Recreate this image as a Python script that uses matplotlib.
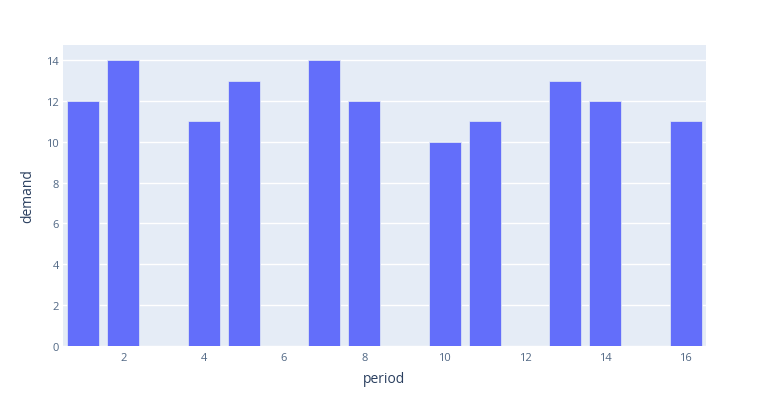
import matplotlib
matplotlib.use("Agg")
import matplotlib.pyplot as plt

# demand per period
period = list(range(1, 17))
demand = [12, 14, 0, 11, 13, 0, 14, 12, 0, 10, 11, 0, 13, 12, 0, 11]

plt.rcParams['font.family'] = ['Open Sans', 'DejaVu Sans']
text_col = '#2a3f5f'

fig = plt.figure(figsize=(7.68, 4.10), dpi=100)
ax = fig.add_axes([0.082, 0.1537, 0.837, 0.734])
ax.set_facecolor('#E5ECF6')

ax.bar(period, demand, width=0.8, color='#636EFA', edgecolor='#E5ECF6',
       linewidth=0.5, zorder=3)

ax.set_xlim(0.5, 16.5)
ax.set_ylim(0, 14.74)
ax.set_xticks(range(2, 17, 2))
ax.set_yticks(range(0, 15, 2))
ax.grid(True, axis='y', color='white', linewidth=1, zorder=0)
ax.set_axisbelow(True)
for s in ax.spines.values():
    s.set_visible(False)
ax.tick_params(axis='y', length=0, labelsize=8, colors='#506784', pad=3)
ax.tick_params(axis='x', length=0, labelsize=8, colors='#506784', pad=4)

ax.set_xlabel('period', fontsize=10, color=text_col, labelpad=6)
ax.set_ylabel('demand', fontsize=10, color=text_col, labelpad=8)

fig.savefig('out.png', dpi=100)
